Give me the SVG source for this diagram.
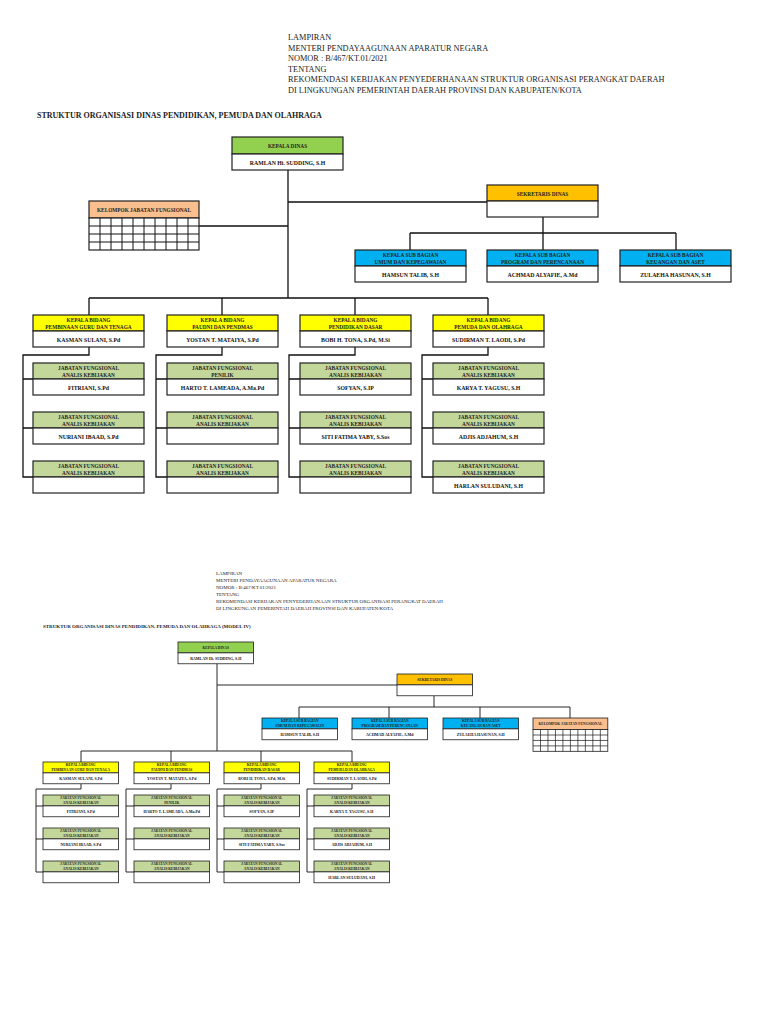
<svg xmlns="http://www.w3.org/2000/svg" width="768" height="1024" viewBox="0 0 768 1024">
<style>
.t{font-family:"Liberation Serif",serif;fill:#222}
.hd{font-size:8.3px}
.hds{font-size:5px}
.ti{font-size:8px;font-weight:bold}
.tis{font-size:5px;font-weight:bold}
.h{font-family:"Liberation Serif",serif;font-size:5.3px;font-weight:bold;text-anchor:middle;fill:#222}
.n{font-family:"Liberation Serif",serif;font-size:5.8px;font-weight:bold;text-anchor:middle;fill:#111}
.bx{stroke:#222;stroke-width:1.2}
.w{fill:#fff}.gr{fill:#92D050}.ye{fill:#FFFF00}.or{fill:#FFC000}.bl{fill:#00B0F0}.ol{fill:#C4D79B}.pe{fill:#FABF8F}
.c{stroke:#111;stroke-width:1.3;fill:none}
.cs{stroke:#111;stroke-width:0.9;fill:none}
.gl{stroke:#111;stroke-width:1;fill:none}
</style>
<defs>
<g id="grid">
<rect class="bx pe" x="0" y="0" width="110" height="17"/>
<rect class="bx w" x="0" y="17" width="110" height="32"/>
<path class="gl" d="M0 25H110M0 33H110M0 41H110M11 17V49M22 17V49M33 17V49M44 17V49M55 17V49M66 17V49M77 17V49M88 17V49M99 17V49"/>
<text class="h" x="55" y="11">KELOMPOK JABATAN FUNGSIONAL</text>
</g>
</defs>

<!-- ===== PAGE 1 HEADER ===== -->
<g class="t hd">
<text x="288" y="40">LAMPIRAN</text>
<text x="288" y="50.5">MENTERI PENDAYAAGUNAAN APARATUR NEGARA</text>
<text x="288" y="61">NOMOR : B/467/KT.01/2021</text>
<text x="288" y="71.5">TENTANG</text>
<text x="288" y="82">REKOMENDASI KEBIJAKAN PENYEDERHANAAN STRUKTUR ORGANISASI PERANGKAT DAERAH</text>
<text x="288" y="92.5">DI LINGKUNGAN PEMERINTAH DAERAH PROVINSI DAN KABUPATEN/KOTA</text>
</g>
<text class="t ti" x="37" y="118">STRUKTUR ORGANISASI DINAS PENDIDIKAN, PEMUDA DAN OLAHRAGA</text>

<!-- connectors page 1 -->
<g id="connectors1">
<path class="c" d="M288 170V298M288 202H487M543 217V233M410 233H676M410 233V250M543 233V250M676 233V250M199 226H288M89 298H488M89 298V315M222 298V315M355 298V315M488 298V315"/>
<path class="c" d="M89 347V355H23V477H33M23 379H33M23 428H33"/>
<path class="c" d="M222 347V355H156V477H167M156 379H167M156 428H167"/>
<path class="c" d="M355 347V355H289V477H300M289 379H300M289 428H300"/>
<path class="c" d="M488 347V355H422V477H433M422 379H433M422 428H433"/>
</g>

<g id="p1-kepala" transform="translate(232,137)"><rect class="bx gr" width="111" height="17"/><rect class="bx w" y="17" width="111" height="16"/><text class="h" x="55.5" y="11">KEPALA DINAS</text><text class="n" x="55.5" y="27.5">RAMLAN Hi. SUDDING, S.H</text></g>
<g id="p1-sekretaris" transform="translate(487,185)"><rect class="bx or" width="111" height="16"/><rect class="bx w" y="16" width="111" height="16"/><text class="h" x="55.5" y="10.5">SEKRETARIS DINAS</text></g>
<g id="p1-kelompok" transform="translate(89,201)"><use href="#grid"/></g>

<g id="p1-sub1" transform="translate(355,250)"><rect class="bx bl" width="111" height="16"/><rect class="bx w" y="16" width="111" height="16"/><text class="h" x="55.5" y="6.5">KEPALA SUB BAGIAN</text><text class="h" x="55.5" y="13.8">UMUM DAN KEPEGAWAIAN</text><text class="n" x="55.5" y="26.5">HAMSUN TALIB, S.H</text></g>
<g id="p1-sub2" transform="translate(487,250)"><rect class="bx bl" width="111" height="16"/><rect class="bx w" y="16" width="111" height="16"/><text class="h" x="55.5" y="6.5">KEPALA SUB BAGIAN</text><text class="h" x="55.5" y="13.8">PROGRAM DAN PERENCANAAN</text><text class="n" x="55.5" y="26.5">ACHMAD ALYAFIE, A.Md</text></g>
<g id="p1-sub3" transform="translate(620,250)"><rect class="bx bl" width="111" height="16"/><rect class="bx w" y="16" width="111" height="16"/><text class="h" x="55.5" y="6.5">KEPALA SUB BAGIAN</text><text class="h" x="55.5" y="13.8">KEUANGAN DAN ASET</text><text class="n" x="55.5" y="26.5">ZULAEHA HASUNAN, S.H</text></g>

<g id="p1-kabid1" transform="translate(33,315)"><rect class="bx ye" width="111" height="16"/><rect class="bx w" y="16" width="111" height="16"/><text class="h" x="55.5" y="6.5">KEPALA BIDANG</text><text class="h" x="55.5" y="13.8">PEMBINAAN GURU DAN TENAGA</text><text class="n" x="55.5" y="26.5">KASMAN SULANI, S.Pd</text></g>
<g id="p1-kabid2" transform="translate(167,315)"><rect class="bx ye" width="111" height="16"/><rect class="bx w" y="16" width="111" height="16"/><text class="h" x="55.5" y="6.5">KEPALA BIDANG</text><text class="h" x="55.5" y="13.8">PAUDNI DAN PENDMAS</text><text class="n" x="55.5" y="26.5">YOSTAN T. MATAIYA, S.Pd</text></g>
<g id="p1-kabid3" transform="translate(300,315)"><rect class="bx ye" width="111" height="16"/><rect class="bx w" y="16" width="111" height="16"/><text class="h" x="55.5" y="6.5">KEPALA BIDANG</text><text class="h" x="55.5" y="13.8">PENDIDIKAN DASAR</text><text class="n" x="55.5" y="26.5">BOBI H. TONA, S.Pd, M.Si</text></g>
<g id="p1-kabid4" transform="translate(433,315)"><rect class="bx ye" width="111" height="16"/><rect class="bx w" y="16" width="111" height="16"/><text class="h" x="55.5" y="6.5">KEPALA BIDANG</text><text class="h" x="55.5" y="13.8">PEMUDA DAN OLAHRAGA</text><text class="n" x="55.5" y="26.5">SUDIRMAN T. LAODI, S.Pd</text></g>

<g id="p1-j11" transform="translate(33,363)"><rect class="bx ol" width="111" height="16"/><rect class="bx w" y="16" width="111" height="16"/><text class="h" x="55.5" y="6.5">JABATAN FUNGSIONAL</text><text class="h" x="55.5" y="13.8">ANALIS KEBIJAKAN</text><text class="n" x="55.5" y="26.5">FITRIANI, S.Pd</text></g>
<g id="p1-j12" transform="translate(33,412)"><rect class="bx ol" width="111" height="16"/><rect class="bx w" y="16" width="111" height="16"/><text class="h" x="55.5" y="6.5">JABATAN FUNGSIONAL</text><text class="h" x="55.5" y="13.8">ANALIS KEBIJAKAN</text><text class="n" x="55.5" y="26.5">NURIANI IBAAD, S.Pd</text></g>
<g id="p1-j13" transform="translate(33,461)"><rect class="bx ol" width="111" height="16"/><rect class="bx w" y="16" width="111" height="16"/><text class="h" x="55.5" y="6.5">JABATAN FUNGSIONAL</text><text class="h" x="55.5" y="13.8">ANALIS KEBIJAKAN</text></g>
<g id="p1-j21" transform="translate(167,363)"><rect class="bx ol" width="111" height="16"/><rect class="bx w" y="16" width="111" height="16"/><text class="h" x="55.5" y="6.5">JABATAN FUNGSIONAL</text><text class="h" x="55.5" y="13.8">PENILIK</text><text class="n" x="55.5" y="26.5">HARTO T. LAMEADA, A.Ma.Pd</text></g>
<g id="p1-j22" transform="translate(167,412)"><rect class="bx ol" width="111" height="16"/><rect class="bx w" y="16" width="111" height="16"/><text class="h" x="55.5" y="6.5">JABATAN FUNGSIONAL</text><text class="h" x="55.5" y="13.8">ANALIS KEBIJAKAN</text></g>
<g id="p1-j23" transform="translate(167,461)"><rect class="bx ol" width="111" height="16"/><rect class="bx w" y="16" width="111" height="16"/><text class="h" x="55.5" y="6.5">JABATAN FUNGSIONAL</text><text class="h" x="55.5" y="13.8">ANALIS KEBIJAKAN</text></g>
<g id="p1-j31" transform="translate(300,363)"><rect class="bx ol" width="111" height="16"/><rect class="bx w" y="16" width="111" height="16"/><text class="h" x="55.5" y="6.5">JABATAN FUNGSIONAL</text><text class="h" x="55.5" y="13.8">ANALIS KEBIJAKAN</text><text class="n" x="55.5" y="26.5">SOFYAN, S.IP</text></g>
<g id="p1-j32" transform="translate(300,412)"><rect class="bx ol" width="111" height="16"/><rect class="bx w" y="16" width="111" height="16"/><text class="h" x="55.5" y="6.5">JABATAN FUNGSIONAL</text><text class="h" x="55.5" y="13.8">ANALIS KEBIJAKAN</text><text class="n" x="55.5" y="26.5">SITI FATIMA YABY, S.Sos</text></g>
<g id="p1-j33" transform="translate(300,461)"><rect class="bx ol" width="111" height="16"/><rect class="bx w" y="16" width="111" height="16"/><text class="h" x="55.5" y="6.5">JABATAN FUNGSIONAL</text><text class="h" x="55.5" y="13.8">ANALIS KEBIJAKAN</text></g>
<g id="p1-j41" transform="translate(433,363)"><rect class="bx ol" width="111" height="16"/><rect class="bx w" y="16" width="111" height="16"/><text class="h" x="55.5" y="6.5">JABATAN FUNGSIONAL</text><text class="h" x="55.5" y="13.8">ANALIS KEBIJAKAN</text><text class="n" x="55.5" y="26.5">KARYA T. YAGUSU, S.H</text></g>
<g id="p1-j42" transform="translate(433,412)"><rect class="bx ol" width="111" height="16"/><rect class="bx w" y="16" width="111" height="16"/><text class="h" x="55.5" y="6.5">JABATAN FUNGSIONAL</text><text class="h" x="55.5" y="13.8">ANALIS KEBIJAKAN</text><text class="n" x="55.5" y="26.5">ADJIS ADJAHUM, S.H</text></g>
<g id="p1-j43" transform="translate(433,461)"><rect class="bx ol" width="111" height="16"/><rect class="bx w" y="16" width="111" height="16"/><text class="h" x="55.5" y="6.5">JABATAN FUNGSIONAL</text><text class="h" x="55.5" y="13.8">ANALIS KEBIJAKAN</text><text class="n" x="55.5" y="26.5">HARLAN SULUDANI, S.H</text></g>

<!-- ===== PAGE 2 (MODEL IV) ===== -->
<g class="t hds">
<text x="216" y="575">LAMPIRAN</text>
<text x="216" y="582">MENTERI PENDAYAAGUNAAN APARATUR NEGARA</text>
<text x="216" y="589">NOMOR : B/467/KT.01/2021</text>
<text x="216" y="596">TENTANG</text>
<text x="216" y="603">REKOMENDASI KEBIJAKAN PENYEDERHANAAN STRUKTUR ORGANISASI PERANGKAT DAERAH</text>
<text x="216" y="610">DI LINGKUNGAN PEMERINTAH DAERAH PROVINSI DAN KABUPATEN/KOTA</text>
</g>
<text class="t tis" x="43" y="628">STRUKTUR ORGANISASI DINAS PENDIDIKAN, PEMUDA DAN OLAHRAGA (MODEL IV)</text>

<g id="connectors2">
<path class="cs" d="M217 663V751M217 685H397M434 696V707M299 707H570M299 707V718M389 707V718M480 707V718M570 707V718M81 751H352M81 751V762M171 751V762M261 751V762M352 751V762"/>
<path class="cs" d="M81 784V789H36V872H43M36 806H43M36 839H43"/>
<path class="cs" d="M171 784V789H126V872H134M126 806H134M126 839H134"/>
<path class="cs" d="M261 784V789H217V872H224M217 806H224M217 839H224"/>
<path class="cs" d="M352 784V789H307V872H314M307 806H314M307 839H314"/>
</g>

<g id="p2-kepala" transform="translate(178,642) scale(0.68)"><rect class="bx gr" width="111" height="16"/><rect class="bx w" y="16" width="111" height="16"/><text class="h" x="55.5" y="10.5">KEPALA DINAS</text><text class="n" x="55.5" y="26.5">RAMLAN Hi. SUDDING, S.H</text></g>
<g id="p2-sekretaris" transform="translate(397,674) scale(0.68)"><rect class="bx or" width="111" height="16"/><rect class="bx w" y="16" width="111" height="16"/><text class="h" x="55.5" y="10.5">SEKRETARIS DINAS</text></g>
<g id="p2-sub1" transform="translate(262,718) scale(0.68)"><rect class="bx bl" width="111" height="16"/><rect class="bx w" y="16" width="111" height="16"/><text class="h" x="55.5" y="6.5">KEPALA SUB BAGIAN</text><text class="h" x="55.5" y="13.8">UMUM DAN KEPEGAWAIAN</text><text class="n" x="55.5" y="26.5">HAMSUN TALIB, S.H</text></g>
<g id="p2-sub2" transform="translate(352,718) scale(0.68)"><rect class="bx bl" width="111" height="16"/><rect class="bx w" y="16" width="111" height="16"/><text class="h" x="55.5" y="6.5">KEPALA SUB BAGIAN</text><text class="h" x="55.5" y="13.8">PROGRAM DAN PERENCANAAN</text><text class="n" x="55.5" y="26.5">ACHMAD ALYAFIE, A.Md</text></g>
<g id="p2-sub3" transform="translate(443,718) scale(0.68)"><rect class="bx bl" width="111" height="16"/><rect class="bx w" y="16" width="111" height="16"/><text class="h" x="55.5" y="6.5">KEPALA SUB BAGIAN</text><text class="h" x="55.5" y="13.8">KEUANGAN DAN ASET</text><text class="n" x="55.5" y="26.5">ZULAEHA HASUNAN, S.H</text></g>
<g id="p2-kelompok" transform="translate(533,718) scale(0.68)"><use href="#grid"/></g>

<g id="p2-kabid1" transform="translate(43,762) scale(0.68)"><rect class="bx ye" width="111" height="16"/><rect class="bx w" y="16" width="111" height="16"/><text class="h" x="55.5" y="6.5">KEPALA BIDANG</text><text class="h" x="55.5" y="13.8">PEMBINAAN GURU DAN TENAGA</text><text class="n" x="55.5" y="26.5">KASMAN SULANI, S.Pd</text></g>
<g id="p2-kabid2" transform="translate(134,762) scale(0.68)"><rect class="bx ye" width="111" height="16"/><rect class="bx w" y="16" width="111" height="16"/><text class="h" x="55.5" y="6.5">KEPALA BIDANG</text><text class="h" x="55.5" y="13.8">PAUDNI DAN PENDMAS</text><text class="n" x="55.5" y="26.5">YOSTAN T. MATAIYA, S.Pd</text></g>
<g id="p2-kabid3" transform="translate(224,762) scale(0.68)"><rect class="bx ye" width="111" height="16"/><rect class="bx w" y="16" width="111" height="16"/><text class="h" x="55.5" y="6.5">KEPALA BIDANG</text><text class="h" x="55.5" y="13.8">PENDIDIKAN DASAR</text><text class="n" x="55.5" y="26.5">BOBI H. TONA, S.Pd, M.Si</text></g>
<g id="p2-kabid4" transform="translate(314,762) scale(0.68)"><rect class="bx ye" width="111" height="16"/><rect class="bx w" y="16" width="111" height="16"/><text class="h" x="55.5" y="6.5">KEPALA BIDANG</text><text class="h" x="55.5" y="13.8">PEMUDA DAN OLAHRAGA</text><text class="n" x="55.5" y="26.5">SUDIRMAN T. LAODI, S.Pd</text></g>

<g id="p2-j11" transform="translate(43,795) scale(0.68)"><rect class="bx ol" width="111" height="16"/><rect class="bx w" y="16" width="111" height="16"/><text class="h" x="55.5" y="6.5">JABATAN FUNGSIONAL</text><text class="h" x="55.5" y="13.8">ANALIS KEBIJAKAN</text><text class="n" x="55.5" y="26.5">FITRIANI, S.Pd</text></g>
<g id="p2-j12" transform="translate(43,828) scale(0.68)"><rect class="bx ol" width="111" height="16"/><rect class="bx w" y="16" width="111" height="16"/><text class="h" x="55.5" y="6.5">JABATAN FUNGSIONAL</text><text class="h" x="55.5" y="13.8">ANALIS KEBIJAKAN</text><text class="n" x="55.5" y="26.5">NURIANI IBAAD, S.Pd</text></g>
<g id="p2-j13" transform="translate(43,861) scale(0.68)"><rect class="bx ol" width="111" height="16"/><rect class="bx w" y="16" width="111" height="16"/><text class="h" x="55.5" y="6.5">JABATAN FUNGSIONAL</text><text class="h" x="55.5" y="13.8">ANALIS KEBIJAKAN</text></g>
<g id="p2-j21" transform="translate(134,795) scale(0.68)"><rect class="bx ol" width="111" height="16"/><rect class="bx w" y="16" width="111" height="16"/><text class="h" x="55.5" y="6.5">JABATAN FUNGSIONAL</text><text class="h" x="55.5" y="13.8">PENILIK</text><text class="n" x="55.5" y="26.5">HARTO T. LAMEADA, A.Ma.Pd</text></g>
<g id="p2-j22" transform="translate(134,828) scale(0.68)"><rect class="bx ol" width="111" height="16"/><rect class="bx w" y="16" width="111" height="16"/><text class="h" x="55.5" y="6.5">JABATAN FUNGSIONAL</text><text class="h" x="55.5" y="13.8">ANALIS KEBIJAKAN</text></g>
<g id="p2-j23" transform="translate(134,861) scale(0.68)"><rect class="bx ol" width="111" height="16"/><rect class="bx w" y="16" width="111" height="16"/><text class="h" x="55.5" y="6.5">JABATAN FUNGSIONAL</text><text class="h" x="55.5" y="13.8">ANALIS KEBIJAKAN</text></g>
<g id="p2-j31" transform="translate(224,795) scale(0.68)"><rect class="bx ol" width="111" height="16"/><rect class="bx w" y="16" width="111" height="16"/><text class="h" x="55.5" y="6.5">JABATAN FUNGSIONAL</text><text class="h" x="55.5" y="13.8">ANALIS KEBIJAKAN</text><text class="n" x="55.5" y="26.5">SOFYAN, S.IP</text></g>
<g id="p2-j32" transform="translate(224,828) scale(0.68)"><rect class="bx ol" width="111" height="16"/><rect class="bx w" y="16" width="111" height="16"/><text class="h" x="55.5" y="6.5">JABATAN FUNGSIONAL</text><text class="h" x="55.5" y="13.8">ANALIS KEBIJAKAN</text><text class="n" x="55.5" y="26.5">SITI FATIMA YABY, S.Sos</text></g>
<g id="p2-j33" transform="translate(224,861) scale(0.68)"><rect class="bx ol" width="111" height="16"/><rect class="bx w" y="16" width="111" height="16"/><text class="h" x="55.5" y="6.5">JABATAN FUNGSIONAL</text><text class="h" x="55.5" y="13.8">ANALIS KEBIJAKAN</text></g>
<g id="p2-j41" transform="translate(314,795) scale(0.68)"><rect class="bx ol" width="111" height="16"/><rect class="bx w" y="16" width="111" height="16"/><text class="h" x="55.5" y="6.5">JABATAN FUNGSIONAL</text><text class="h" x="55.5" y="13.8">ANALIS KEBIJAKAN</text><text class="n" x="55.5" y="26.5">KARYA T. YAGUSU, S.H</text></g>
<g id="p2-j42" transform="translate(314,828) scale(0.68)"><rect class="bx ol" width="111" height="16"/><rect class="bx w" y="16" width="111" height="16"/><text class="h" x="55.5" y="6.5">JABATAN FUNGSIONAL</text><text class="h" x="55.5" y="13.8">ANALIS KEBIJAKAN</text><text class="n" x="55.5" y="26.5">ADJIS ADJAHUM, S.H</text></g>
<g id="p2-j43" transform="translate(314,861) scale(0.68)"><rect class="bx ol" width="111" height="16"/><rect class="bx w" y="16" width="111" height="16"/><text class="h" x="55.5" y="6.5">JABATAN FUNGSIONAL</text><text class="h" x="55.5" y="13.8">ANALIS KEBIJAKAN</text><text class="n" x="55.5" y="26.5">HARLAN SULUDANI, S.H</text></g>
</svg>
